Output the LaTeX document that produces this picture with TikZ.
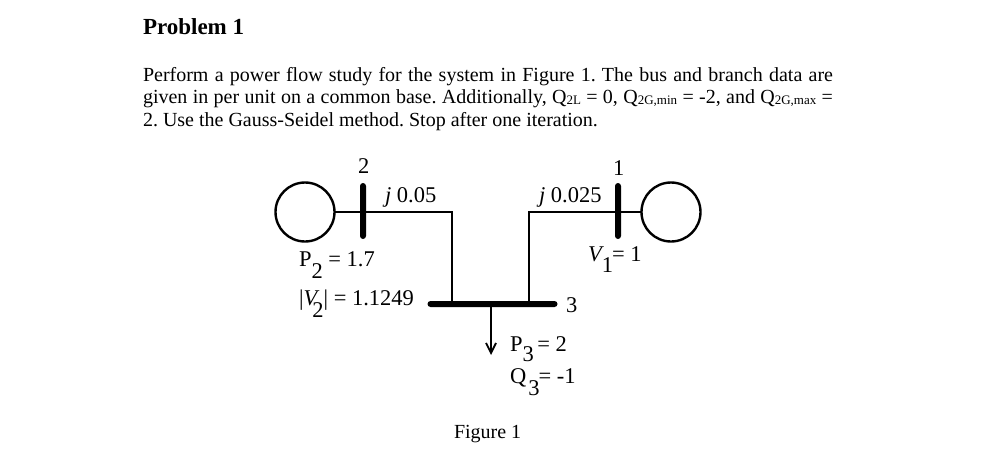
\documentclass[tikz,border=0pt]{standalone}
\usepackage{fontspec}
\setmainfont{Liberation Serif}
\usetikzlibrary{arrows.meta}
\tikzset{
  txt/.style={anchor=base west,inner sep=0pt,outer sep=0pt,font=\fontsize{20}{22}\selectfont\frenchspacing},
  lab/.style={anchor=base west,inner sep=0pt,outer sep=0pt,font=\fontsize{22.5}{24}\selectfont},
  gen/.style={circle,draw,line width=2.4pt,minimum size=59pt,inner sep=0pt,outer sep=0pt},
  bushor/.style={rectangle,fill=black,rounded corners=3pt,minimum width=130pt,minimum height=6pt,inner sep=0pt,outer sep=0pt},
  busver/.style={rectangle,fill=black,rounded corners=3pt,minimum width=6pt,minimum height=56pt,inner sep=0pt,outer sep=0pt},
  wire/.style={line width=1.6pt}
}
\newcommand{\sub}[2][12pt]{\smash{\raisebox{-#1}{#2}}}
\begin{document}
\begin{tikzpicture}[x=1pt,y=-1pt]
\useasboundingbox (0,0) rectangle (1002,467);
\fill[white] (0,0) rectangle (1002,467);
\node[txt,font=\fontsize{23}{24}\selectfont\bfseries] (title) at (143,34) {Problem 1};
\node[txt] (l1) at (143,81) {\makebox[690pt][s]{Perform a power flow study for the system in Figure 1. The bus and branch data are}};
\node[txt] (l2) at (143,103) {\makebox[690pt][s]{given in per unit on a common base. Additionally, Q\raisebox{-1pt}{\fontsize{13}{13}\selectfont 2L} = 0, Q\raisebox{-1pt}{\fontsize{13}{13}\selectfont 2G,min} = -2, and Q\raisebox{-1pt}{\fontsize{13}{13}\selectfont 2G,max} =}};
\node[txt] (l3) at (143,126) {2. Use the Gauss-Seidel method. Stop after one iteration.};
% generators and buses
\node[gen] (g2) at (305,212) {};
\node[gen] (g1) at (671,212) {};
\node[busver] (b2) at (363,211) {};
\node[busver] (b1) at (618,211) {};
\node[bushor] (b3) at (492.5,304) {};
\coordinate (c2) at (452,304);
\coordinate (c1) at (529,304);
\coordinate (c3) at (491,304);
\coordinate (load) at (491,355);
\draw[wire] (g2.east) -| (c2);
\draw[wire] (g1.west) -| (c1);
\draw[wire,-{Straight Barb[length=10pt,width=10pt,line width=1.8pt]}] (c3) -- (load);
% labels
\node[lab] (n2) at (358,173) {2};
\node[lab] (n1) at (613,175) {1};
\node[lab] (n3) at (566,312) {3};
\node[lab] (x2) at (385,202) {\textit{j} 0.05};
\node[lab] (x1) at (539,202) {\textit{j} 0.025};
\node[lab] (p2) at (299,266) {P\sub{2} = 1.7};
\node[lab] (v2) at (299,305) {|\textit{V}\hspace{-7pt}\sub{2}| = 1.1249};
\node[lab] (v1) at (588,261) {\textit{V}\hspace{-2pt}\sub[11pt]{1}\hspace{-1pt}= 1};
\node[lab] (p3) at (510,351) {P\sub[10pt]{3}\hspace{-2pt} = 2};
\node[lab] (q3) at (510,383) {Q\hspace{2pt}\sub{3}\hspace{-1pt}= -1};
\node[txt] (fig) at (454,438) {Figure 1};
\end{tikzpicture}
\end{document}
